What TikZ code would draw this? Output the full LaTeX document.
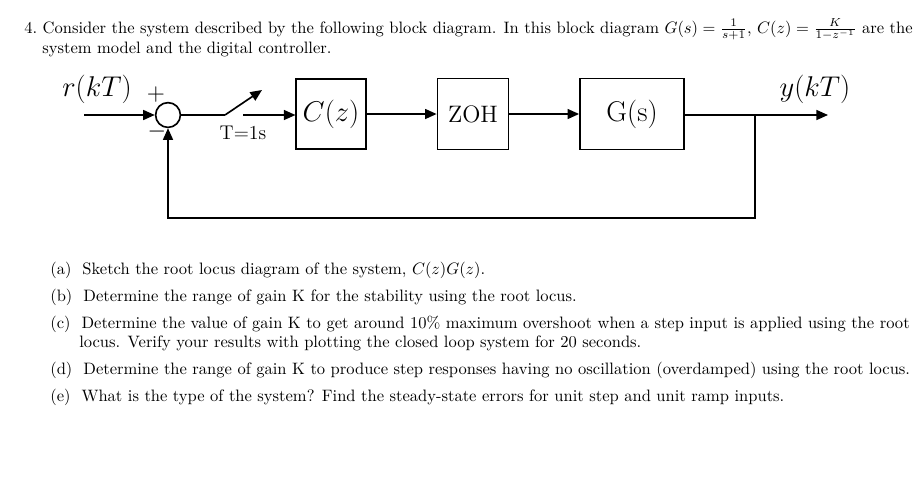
\documentclass[tikz,border=0pt]{standalone}
\usetikzlibrary{arrows.meta}
\begin{document}
\begin{tikzpicture}[x=0.605pt,y=-0.605pt,
  blk/.style={draw,line width=1pt,inner sep=0pt},
  ln/.style={line width=1pt},
  arr/.style={ln,-{Triangle[length=7pt,width=6pt]}},
  txt/.style={anchor=base west,inner sep=0pt}]
\useasboundingbox (0,0) rectangle (923,500);
\node[txt] (t1) at (24,33) {4.\ Consider the system described by the following block diagram. In this block diagram $G(s)=\frac{1}{s+1}$, $C(z)=\frac{K}{1-z^{-1}}$ are the};
\node[txt] (t2) at (42,53) {system model and the digital controller.};
% diagram
\node[draw,ln,circle,minimum size=15pt,inner sep=0pt] (sum) at (168,115) {};
\coordinate (in) at (84,115);
\node[blk,minimum width=42pt,minimum height=42pt,font=\LARGE] (C) at (331,114) {$C(z)$};
\node[blk,minimum width=43pt,minimum height=43pt,font=\Large] (Z) at (473,114) {ZOH};
\node[blk,minimum width=63pt,minimum height=43pt,font=\LARGE] (G) at (632,114) {G(s)};
\coordinate (out) at (828,115);
\coordinate (br) at (755,115);
\coordinate (fb) at (755,218);
\coordinate (fb2) at (168,218);
\coordinate (sw1) at (225,115);
\coordinate (sw2) at (262,90);
\coordinate (sw3) at (243,115);
\draw[arr] (in) -- (sum.west);
\draw[ln] (sum.east) -- (sw1);
\draw[arr] (sw1) -- (sw2);
\draw[arr] (sw3) -- (sw3 -| C.west);
\draw[arr] (C.east) -- (Z.west);
\draw[arr] (Z.east) -- (G.west);
\draw[arr] (G.east |- out) -- (out);
\draw[arr] (br) -- (fb) -- (fb2) -- (sum.south);
\node[font=\LARGE] (r) at (97,89) {$r(kT)$};
\node[font=\LARGE] (y) at (815,89) {$y(kT)$};
\node (plus) at (156,95) {\Large $+$};
\node (minus) at (157,132) {\Large $-$};
\node[font=\large] (T) at (243,133) {T=1s};
% questions
\begin{scope}[every node/.style={txt}]
\node (a) at (50,274) {(a)\ \ Sketch the root locus diagram of the system, $C(z)G(z)$.};
\node (b) at (50,301) {(b)\ \ Determine the range of gain K for the stability using the root locus.};
\node (c) at (50,328) {(c)\ \ Determine the value of gain K to get around 10\% maximum overshoot when a step input is applied using the root};
\node (c2) at (79,347) {locus. Verify your results with plotting the closed loop system for 20 seconds.};
\node (d) at (50,374) {(d)\ \ Determine the range of gain K to produce step responses having no oscillation (overdamped) using the root locus.};
\node (e) at (50,401) {(e)\ \ What is the type of the system? Find the steady-state errors for unit step and unit ramp inputs.};
\end{scope}
\end{tikzpicture}
\end{document}
